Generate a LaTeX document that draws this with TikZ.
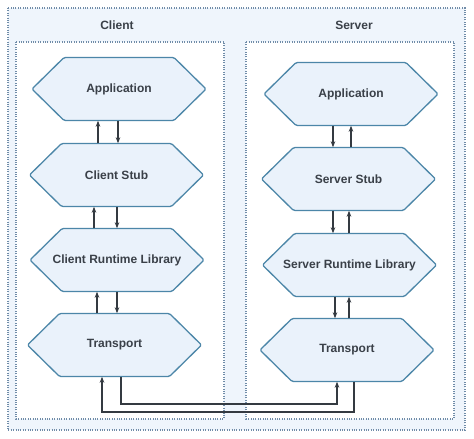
\documentclass[tikz,border=0pt]{standalone}
\usepackage{fontspec}
\setmainfont{Liberation Sans}
\definecolor{boxblue}{RGB}{239, 245, 252}
\definecolor{hexfill}{RGB}{234, 242, 251}
\definecolor{hexline}{RGB}{76, 134, 168}
\definecolor{dotline}{RGB}{112, 140, 168}
\definecolor{textgray}{RGB}{58, 64, 72}
\usepackage{tikz}
\usetikzlibrary{arrows.meta, calc}
\tikzset{
  hexbox/.style={draw=hexline, fill=hexfill, line width=1.3pt, rounded corners=1.5pt, line join=round},
  layer/.style={minimum width=174pt, minimum height=63pt, inner sep=0pt,
    font=\bfseries\fontsize{12}{14}\selectfont, text=textgray},
  zone/.style={draw=dotline, line width=1.1pt, dash pattern=on 1pt off 1.4pt},
  flow/.style={draw=textgray!90!black, line width=1.2pt, -{Stealth[length=6pt, width=4.5pt]}}
}
% one hexagon with its named node on top
\newcommand{\stacklayer}[3]{%
  \draw[hexbox] ($(#2)+(-87,0)$) -- ++(32,-31.5) -- ++(110,0) -- ++(32,31.5)
    -- ++(-32,31.5) -- ++(-110,0) -- cycle;
  \node[layer] (#1) at (#2) {#3};}

\begin{document}
\begin{tikzpicture}[x=1pt, y=-1pt]
  \useasboundingbox (0,0) rectangle (474,439);

  % The outer frame and the two sides
  \draw[zone, fill=boxblue] (8,8) rectangle (465,430);
  \draw[zone, fill=white] (16,42) rectangle (224,419);
  \draw[zone, fill=white] (246,42) rectangle (454,419);

  \node[font=\bfseries\fontsize{12}{14}\selectfont, text=textgray] (clientlabel) at (117,25) {Client};
  \node[font=\bfseries\fontsize{12}{14}\selectfont, text=textgray] (serverlabel) at (354,25) {Server};

  % Client stack
  \stacklayer{capp}{119,89}{Application}
  \stacklayer{cstub}{116.5,175}{Client Stub}
  \stacklayer{crt}{117,260}{Client Runtime Library}
  \stacklayer{ctrans}{114.5,345}{Transport}

  % Server stack
  \stacklayer{sapp}{351,94}{Application}
  \stacklayer{sstub}{348.5,179}{Server Stub}
  \stacklayer{srt}{349.5,265}{Server Runtime Library}
  \stacklayer{strans}{347,350}{Transport}

  % Client calls down and up
  \draw[flow] (cstub.north -| 98,0) -- (capp.south -| 98,0);
  \draw[flow] (capp.south -| 118,0) -- (cstub.north -| 118,0);
  \draw[flow] (crt.north -| 94,0) -- (cstub.south -| 94,0);
  \draw[flow] (cstub.south -| 117,0) -- (crt.north -| 117,0);
  \draw[flow] (ctrans.north -| 97,0) -- (crt.south -| 97,0);
  \draw[flow] (crt.south -| 117,0) -- (ctrans.north -| 117,0);

  % Server calls down and up
  \draw[flow] (sapp.south -| 333,0) -- (sstub.north -| 333,0);
  \draw[flow] (sstub.north -| 351,0) -- (sapp.south -| 351,0);
  \draw[flow] (sstub.south -| 333,0) -- (srt.north -| 333,0);
  \draw[flow] (srt.north -| 349,0) -- (sstub.south -| 349,0);
  \draw[flow] (srt.south -| 335,0) -- (strans.north -| 335,0);
  \draw[flow] (strans.north -| 349,0) -- (srt.south -| 349,0);

  % Across the network
  \coordinate (netup) at (0,404);
  \coordinate (netdown) at (0,412);
  \draw[flow] (ctrans.south -| 121,0) -- (netup -| 121,0) -- (netup -| 337,0) -- (strans.south -| 337,0);
  \draw[flow] (strans.south -| 354,0) -- (netdown -| 354,0) -- (netdown -| 102,0) -- (ctrans.south -| 102,0);
\end{tikzpicture}
\end{document}
